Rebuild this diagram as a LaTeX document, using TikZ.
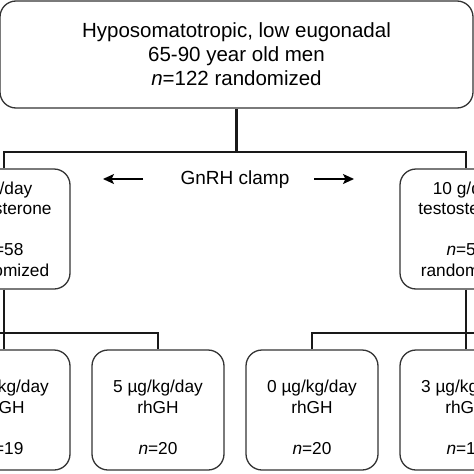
\documentclass[tikz,border=0pt]{standalone}
\usepackage{fontspec}
\setmainfont{Liberation Sans}
\usetikzlibrary{positioning, arrows.meta}

\begin{document}
\begin{tikzpicture}[
    x=1pt, y=-1pt,
    box/.style={draw=black!80, line width=1.3pt, rounded corners=16pt, align=center,
        minimum width=132pt, minimum height=120pt, inner sep=0pt,
        font=\fontsize{17.3}{20.5}\selectfont},
    title_box/.style={box, minimum width=473pt, minimum height=107pt,
        font=\fontsize{20.5}{24}\selectfont},
    link/.style={line width=2.9pt, black!90},
    clamp_arrow/.style={-{Stealth[length=11pt, width=10pt, inset=2.5pt]}, line width=1.4pt}
]
    \useasboundingbox (0,0) rectangle (474,474);
    \clip (0,0) rectangle (474,474);

    % Study population
    \node[title_box] (pop) at (236.5, 54.5)
        {Hyposomatotropic, low eugonadal\\65-90 year old men\\\textit{n}=122 randomized};

    % Testosterone arms
    \node[box] (tlow)  at (4, 229)   {5 g/day\\testosterone\\\mbox{}\\\textit{n}=58\\randomized};
    \node[box] (thigh) at (466, 229) {10 g/day\\testosterone\\\mbox{}\\\textit{n}=59\\randomized};

    % GnRH clamp
    \node[font=\fontsize{19}{22}\selectfont] (clamp) at (235, 180) {GnRH clamp};
    \coordinate (cl0) at (143, 179);
    \coordinate (cl1) at (103, 179);
    \coordinate (cr0) at (314, 179);
    \coordinate (cr1) at (354, 179);
    \draw[clamp_arrow] (cl0) -- (cl1);
    \draw[clamp_arrow] (cr0) -- (cr1);

    % rhGH arms
    \foreach \name/\x/\dose/\n in {la/-150/0/19, lb/4/3/19, lc/158/5/20,
                                   ra/312/0/20, rb/466/3/19, rc/620/5/20} {
        \node[box] (\name) at (\x, 410)
            {\rule{0pt}{27pt}\dose\ µg/kg/day\\rhGH\\\mbox{}\\\textit{n}=\n};
    }

    % Connectors
    \coordinate (split) at (236.5, 152);
    \coordinate (lsplit) at (4, 333);
    \coordinate (rsplit) at (466, 333);
    \draw[link] (pop.south) -- (split);
    \draw[link] (tlow.north) -- (tlow.north |- split) -- (thigh.north |- split) -- (thigh.north);
    \draw[link] (tlow.south) -- (lsplit);
    \draw[link] (thigh.south) -- (rsplit);
    \draw[link] (la.north) -- (la.north |- lsplit) -- (lc.north |- lsplit) -- (lc.north);
    \draw[link] (lb.north) -- (lsplit);
    \draw[link] (ra.north) -- (ra.north |- rsplit) -- (rc.north |- rsplit) -- (rc.north);
    \draw[link] (rb.north) -- (rsplit);

\end{tikzpicture}
\end{document}
